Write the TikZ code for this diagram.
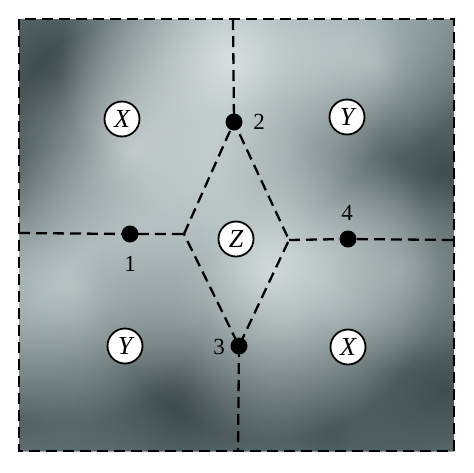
\documentclass[tikz,border=0pt]{standalone}
\usepackage{fontspec}
\setmainfont{Liberation Serif}
\usetikzlibrary{fadings}
\tikzfading[name=blob, inner color=transparent!0, outer color=transparent!100]
\definecolor{basecol}{HTML}{849495}
\definecolor{darkcol}{HTML}{2F3C3E}
\definecolor{lightcol}{HTML}{E6EEEE}
\newcommand{\myblob}[5]{\fill[#1, opacity=#5, path fading=blob] (#2,#3) circle (#4);}
\tikzset{
  border/.style={line width=2.3pt, dash pattern=on 11pt off 6pt},
  region/.style={circle, fill=white, draw=black, line width=1.8pt, minimum size=35pt, inner sep=0pt, font=\fontsize{26}{26}\selectfont\itshape},
  dot/.style={circle, fill=black, minimum size=17pt, inner sep=0pt},
  num/.style={font=\fontsize{23}{23}\selectfont, inner sep=0pt}
}
\begin{document}
\begin{tikzpicture}[x=1pt, y=-1pt]
\useasboundingbox (0,0) rectangle (474,472);
\fill[white] (0,0) rectangle (474,472);
\begin{scope}
\clip (19,19) rectangle (454,451);
\fill[basecol] (19,19) rectangle (454,451);
% dark blobs
\myblob{darkcol}{55}{75}{170}{.9}
\myblob{darkcol}{445}{170}{160}{.8}
\myblob{darkcol}{185}{395}{170}{.9}
\myblob{darkcol}{445}{390}{170}{.8}
\myblob{darkcol}{330}{435}{120}{.55}
\myblob{darkcol}{310}{150}{100}{.35}
\myblob{darkcol}{20}{425}{120}{.55}
\myblob{darkcol}{20}{175}{100}{.45}
% light blobs
\myblob{lightcol}{230}{60}{170}{.85}
\myblob{lightcol}{135}{150}{130}{.65}
\myblob{lightcol}{270}{270}{170}{.8}
\myblob{lightcol}{70}{285}{140}{.55}
\myblob{lightcol}{370}{60}{100}{.45}
\myblob{lightcol}{400}{270}{100}{.35}
\end{scope}
\draw[border] (19,19) rectangle (454,451);
% coordinates
\coordinate (tt) at (233,19);
\coordinate (p2) at (234,122);
\coordinate (lb) at (19,233);
\coordinate (p1) at (130,234);
\coordinate (L) at (184,234);
\coordinate (R) at (289,240);
\coordinate (p4) at (348,239);
\coordinate (rb) at (454,240);
\coordinate (p3) at (239,346);
\coordinate (bb) at (238,451);
% lines
\draw[border] (tt) -- (p2);
\draw[border] (lb) -- (p1) -- (L);
\draw[border] (L) -- (p2) -- (R) -- (p3) -- cycle;
\draw[border] (R) -- (p4) -- (rb);
\draw[border] (p3) -- (bb);
% dots
\node[dot] (d1) at (p1) {};
\node[dot] (d2) at (p2) {};
\node[dot] (d3) at (p3) {};
\node[dot] (d4) at (p4) {};
\node[num] (n1) at (130,264) {1};
\node[num] (n2) at (259,122) {2};
\node[num] (n3) at (219,347) {3};
\node[num] (n4) at (347,213) {4};
% regions
\node[region] (x1) at (122,119) {X};
\node[region] (y1) at (347,117) {Y};
\node[region] (z) at (236,239) {Z};
\node[region] (y2) at (125,346) {Y};
\node[region] (x2) at (348,347) {X};
\end{tikzpicture}
\end{document}
